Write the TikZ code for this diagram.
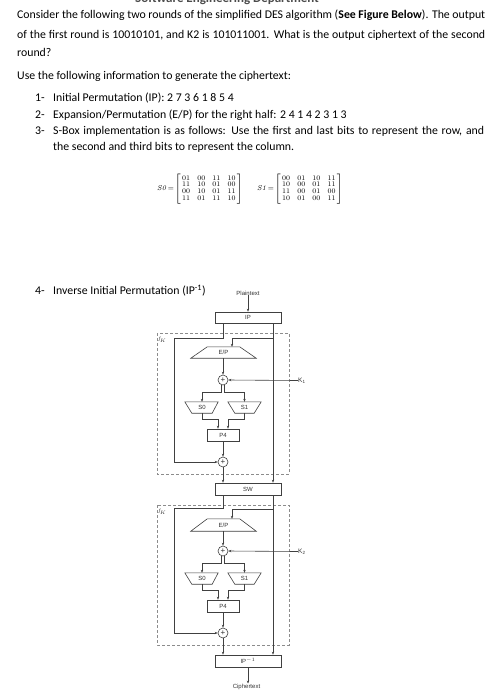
\documentclass[tikz,border=0pt]{standalone}
\usepackage[no-math]{fontspec}
\setmainfont{Carlito}
\newfontfamily\arialf{Liberation Sans}
\usetikzlibrary{arrows.meta}
\begin{document}
\begin{tikzpicture}[x=1pt,y=-1pt,
  txt/.style={anchor=base west, inner sep=0pt, font=\fontsize{11.8}{13}\selectfont},
  dg/.style={font=\arialf\fontsize{6}{6.5}\selectfont, text=black!80, inner sep=0pt},
  blk/.style={draw=black!75, line width=0.6pt, dg, minimum height=11pt},
  con/.style={draw=black!75, line width=0.6pt},
  arr/.style={con, -{Stealth[length=3pt,width=2.4pt]}},
  xorn/.style={circle, draw=black!75, line width=0.6pt, minimum size=10pt, inner sep=0pt, font=\arialf\fontsize{8}{8}\selectfont, text=black!80},
  fbox/.style={draw=black!45, line width=0.9pt, dash pattern=on 3pt off 2pt},
  shp/.style={draw=black!75, line width=0.6pt, line join=miter},
  fk/.style={inner sep=0pt, font=\fontsize{5.5}{5.5}\selectfont, text=black!80},
  mat/.style={anchor=west, inner sep=0pt, font=\fontsize{6.6}{6.8}\selectfont},
  ]
\useasboundingbox[fill=white] (0,0) rectangle (493,697);

% header (cut off by the page edge, as in the reference)
\node[anchor=base, inner sep=0pt, font=\fontsize{13}{13}\selectfont\bfseries, text=black!70] (hdr) at (227,2.5) {Software Engineering Department};

% text
\node[txt] (t1) at (17,18.5) {\makebox[468pt][s]{Consider the following two rounds of the simplified DES algorithm (\textbf{See Figure Below}). The output}};
\node[txt] (t2) at (17,38) {\makebox[468pt][s]{of the first round is 10010101, and K2 is 101011001. What is the output ciphertext of the second}};
\node[txt] (t3) at (17,56.5) {round?};
\node[txt] (t4) at (17,79) {Use the following information to generate the ciphertext:};
\node[txt] (n1) at (35,101.5) {1-};
\node[txt] (l1) at (53,101.5) {Initial Permutation (IP): 2 7 3 6 1 8 5 4};
\node[txt] (n2) at (35,118) {2-};
\node[txt] (l2) at (53,118) {Expansion/Permutation (E/P) for the right half: 2 4 1 4 2 3 1 3};
\node[txt] (n3) at (35,134.5) {3-};
\node[txt] (l3) at (53,134.5) {\makebox[431pt][s]{S-Box implementation is as follows: Use the first and last bits to represent the row, and}};
\node[txt] (l3b) at (53,150.5) {the second and third bits to represent the column.};
\node[txt] (n4) at (35,294.5) {4-};
\node[txt] (l4) at (53,294.5) {Inverse Initial Permutation (IP\textsuperscript{-1})};

% S-box matrices
\node[mat] (s0m) at (157,189) {\setlength{\arraycolsep}{3.6pt}$\mathit{S0}\!=\!\left[\begin{array}{@{\,}cccc@{\,}}01&00&11&10\\11&10&01&00\\00&10&01&11\\11&01&11&10\end{array}\right]$};
\node[mat] (s1m) at (257,189) {\setlength{\arraycolsep}{3.6pt}$\mathit{S1}\!=\!\left[\begin{array}{@{\,}cccc@{\,}}00&01&10&11\\10&00&01&11\\11&00&01&00\\10&01&00&11\end{array}\right]$};

% ---------- diagram ----------
\node[dg] (plain) at (248,293) {Plaintext};
\node[blk, minimum width=66pt] (ip) at (248,317.5) {IP};
\draw[arr] (plain.south) -- (ip.north);

% round 1
\draw[fbox] (157,333) rectangle (289,474);
\node[fk] (fk1) at (162,340) {$f_{\!K}$};
\node[dg, minimum width=32pt, minimum height=11pt] (ep1) at (223.5,352.5) {E/P};
\draw[shp] ([xshift=-16.5pt]ep1.south west) -- (ep1.north west) -- (ep1.north east) -- ([xshift=16.5pt]ep1.south east) -- cycle;
\node[xorn] (x1) at (223,380) {+};
\node[dg, anchor=west, font=\arialf\fontsize{6.5}{6.5}\selectfont] (k1) at (298,380.5) {K\textsubscript{1}};
\node[dg, minimum width=20pt, minimum height=11pt] (s0a) at (202,407.5) {S0};
\draw[shp] ([xshift=-7pt]s0a.north west) -- ([xshift=6pt]s0a.north east) -- (s0a.south east) -- (s0a.south west) -- cycle;
\node[dg, minimum width=19pt, minimum height=11pt] (s1a) at (244.5,407.5) {S1};
\draw[shp] ([xshift=-7pt]s1a.north west) -- ([xshift=7pt]s1a.north east) -- (s1a.south east) -- (s1a.south west) -- cycle;
\node[blk, minimum width=32pt, minimum height=12pt] (p4a) at (223,435) {P4};
\node[xorn] (x2) at (223,462) {+};
\node[blk, minimum width=66pt, minimum height=12pt] (sw) at (248,489) {SW};

\draw[arr] ([xshift=-25pt]ip.south) |- (174,338) |- (x2.west);
\draw[arr] ([xshift=25pt]ip.south) -- ([xshift=25pt]sw.north);
\draw[arr] ([xshift=25pt,yshift=-15pt]ip.south) -| ([xshift=8.5pt]ep1.north);
\draw[arr] (x1.north |- ep1.south) -- (x1.north);
\draw[arr] (k1.west) -- (x1.east);
\draw[arr] ([xshift=-1.5pt]x1.south) -- ++(0,7) -| (s0a.north);
\draw[arr] ([xshift=1.5pt]x1.south) -- ++(0,7) -| (s1a.north);
\draw[arr] (s0a.south) -- ++(0,6) -| ([xshift=-5pt]p4a.north);
\draw[arr] (s1a.south) -- ++(0,6) -| ([xshift=5pt]p4a.north);
\draw[arr] (p4a.south) -- (x2.north);
\draw[arr] (x2.south) -- (x2.south |- sw.north);

% round 2
\draw[fbox] (157,505) rectangle (289,645);
\node[fk] (fk2) at (162,512) {$f_{\!K}$};
\node[dg, minimum width=32pt, minimum height=12pt] (ep2) at (223.5,525) {E/P};
\draw[shp] ([xshift=-16.5pt]ep2.south west) -- (ep2.north west) -- (ep2.north east) -- ([xshift=16.5pt]ep2.south east) -- cycle;
\node[xorn] (x3) at (223,551) {+};
\node[dg, anchor=west, font=\arialf\fontsize{6.5}{6.5}\selectfont] (k2) at (298,551.5) {K\textsubscript{2}};
\node[dg, minimum width=20pt, minimum height=11pt] (s0b) at (202,578.5) {S0};
\draw[shp] ([xshift=-7pt]s0b.north west) -- ([xshift=6pt]s0b.north east) -- (s0b.south east) -- (s0b.south west) -- cycle;
\node[dg, minimum width=19pt, minimum height=11pt] (s1b) at (244.5,578.5) {S1};
\draw[shp] ([xshift=-7pt]s1b.north west) -- ([xshift=7pt]s1b.north east) -- (s1b.south east) -- (s1b.south west) -- cycle;
\node[blk, minimum width=32pt, minimum height=12pt] (p4b) at (223,606) {P4};
\node[xorn] (x4) at (223,633) {+};
\node[blk, minimum width=66pt, minimum height=12pt] (ipinv) at (248,661) {IP$^{-1}$};
\node[dg] (cipher) at (246.5,686.5) {Ciphertext};

\draw[arr] ([xshift=-25pt]sw.south) |- (174,508) |- (x4.west);
\draw[arr] ([xshift=25pt]sw.south) -- ([xshift=25pt]ipinv.north);
\draw[arr] ([xshift=25pt,yshift=-14pt]sw.south) -| ([xshift=8.5pt]ep2.north);
\draw[arr] (x3.north |- ep2.south) -- (x3.north);
\draw[arr] (k2.west) -- (x3.east);
\draw[arr] ([xshift=-1.5pt]x3.south) -- ++(0,7) -| (s0b.north);
\draw[arr] ([xshift=1.5pt]x3.south) -- ++(0,7) -| (s1b.north);
\draw[arr] (s0b.south) -- ++(0,6) -| ([xshift=-5pt]p4b.north);
\draw[arr] (s1b.south) -- ++(0,6) -| ([xshift=5pt]p4b.north);
\draw[arr] (p4b.south) -- (x4.north);
\draw[arr] (x4.south) -- (x4.south |- ipinv.north);
\draw[arr] (ipinv.south) -- (ipinv.south |- cipher.north);
\end{tikzpicture}
\end{document}
